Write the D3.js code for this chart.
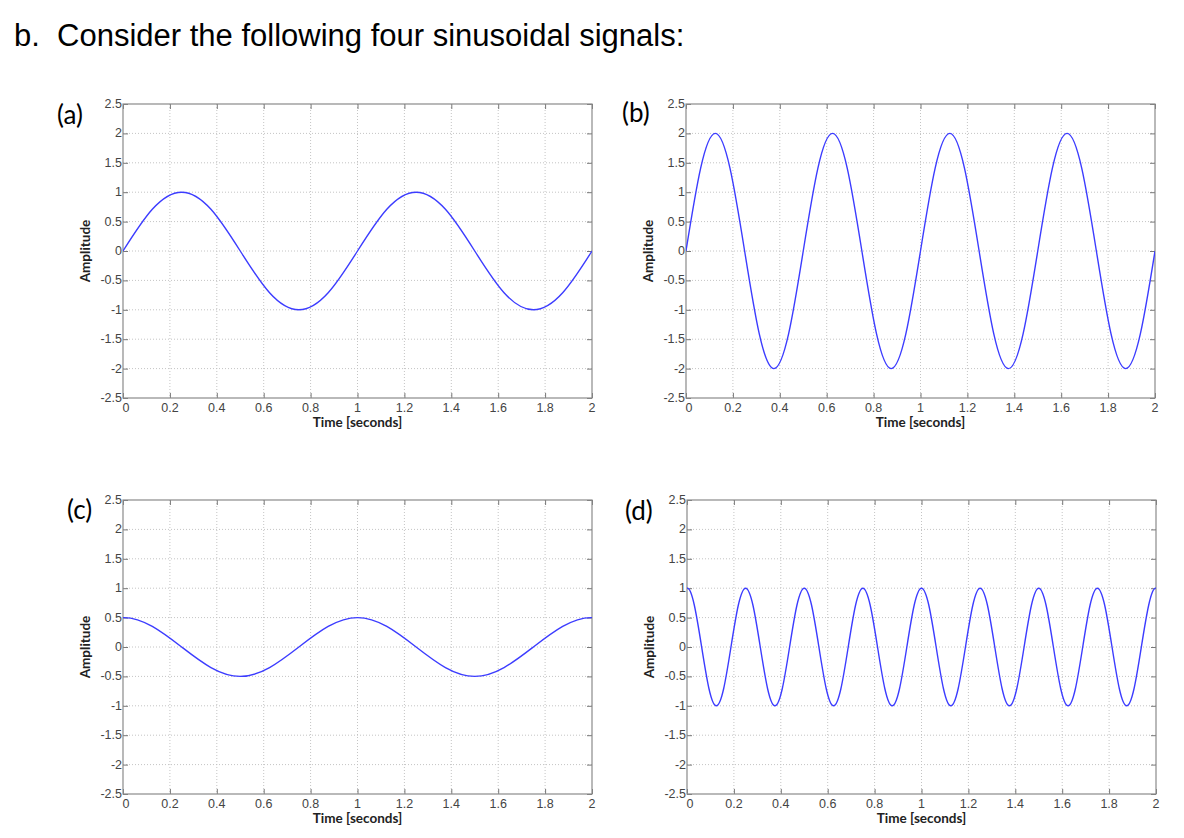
<!DOCTYPE html>
<html>
<head>
<meta charset="utf-8">
<script src="https://cdn.jsdelivr.net/npm/d3@7"></script>
<style>
    body { margin: 0; background: #fff; }
    svg { display: block; }
    .tick-label { font-family: Arial, "Liberation Sans", sans-serif; font-size: 12.5px; fill: #444; }
    .axis-title { font-family: Lato, "Open Sans", sans-serif; font-size: 13.5px; font-weight: bold; fill: #222; }
    .panel-tag { font-family: Lato, "Open Sans", sans-serif; font-size: 26px; fill: #000; }
</style>
</head>
<body>
<div id="chartArea"></div>
<script>
const timeA = [0, 0.125, 0.25, 0.375, 0.5, 0.625, 0.75, 0.875, 1, 1.125, 1.25, 1.375, 1.5, 1.625, 1.75, 1.875, 2];
const ampA  = [0, 0.71, 1, 0.71, 0, -0.71, -1, -0.71, 0, 0.71, 1, 0.71, 0, -0.71, -1, -0.71, 0];

const timeB = [0, 0.0625, 0.125, 0.1875, 0.25, 0.3125, 0.375, 0.4375,
               0.5, 0.5625, 0.625, 0.6875, 0.75, 0.8125, 0.875, 0.9375,
               1, 1.0625, 1.125, 1.1875, 1.25, 1.3125, 1.375, 1.4375,
               1.5, 1.5625, 1.625, 1.6875, 1.75, 1.8125, 1.875, 1.9375, 2];
const ampB  = [0, 1.41, 2, 1.41, 0, -1.41, -2, -1.41,
               0, 1.41, 2, 1.41, 0, -1.41, -2, -1.41,
               0, 1.41, 2, 1.41, 0, -1.41, -2, -1.41,
               0, 1.41, 2, 1.41, 0, -1.41, -2, -1.41, 0];

// (c) and (d) start on a crest, so one sample either side of the window is kept (clipped away)
const timeC = [-0.125, 0, 0.125, 0.25, 0.375, 0.5, 0.625, 0.75, 0.875, 1, 1.125, 1.25, 1.375, 1.5, 1.625, 1.75, 1.875, 2, 2.125];
const ampC  = [0.35, 0.5, 0.35, 0, -0.35, -0.5, -0.35, 0, 0.35, 0.5, 0.35, 0, -0.35, -0.5, -0.35, 0, 0.35, 0.5, 0.35];

const timeD = [-0.03125,
               0, 0.03125, 0.0625, 0.09375, 0.125, 0.15625, 0.1875, 0.21875,
               0.25, 0.28125, 0.3125, 0.34375, 0.375, 0.40625, 0.4375, 0.46875,
               0.5, 0.53125, 0.5625, 0.59375, 0.625, 0.65625, 0.6875, 0.71875,
               0.75, 0.78125, 0.8125, 0.84375, 0.875, 0.90625, 0.9375, 0.96875,
               1, 1.03125, 1.0625, 1.09375, 1.125, 1.15625, 1.1875, 1.21875,
               1.25, 1.28125, 1.3125, 1.34375, 1.375, 1.40625, 1.4375, 1.46875,
               1.5, 1.53125, 1.5625, 1.59375, 1.625, 1.65625, 1.6875, 1.71875,
               1.75, 1.78125, 1.8125, 1.84375, 1.875, 1.90625, 1.9375, 1.96875,
               2, 2.03125];
const ampD  = [0.71,
               1, 0.71, 0, -0.71, -1, -0.71, 0, 0.71,
               1, 0.71, 0, -0.71, -1, -0.71, 0, 0.71,
               1, 0.71, 0, -0.71, -1, -0.71, 0, 0.71,
               1, 0.71, 0, -0.71, -1, -0.71, 0, 0.71,
               1, 0.71, 0, -0.71, -1, -0.71, 0, 0.71,
               1, 0.71, 0, -0.71, -1, -0.71, 0, 0.71,
               1, 0.71, 0, -0.71, -1, -0.71, 0, 0.71,
               1, 0.71, 0, -0.71, -1, -0.71, 0, 0.71,
               1, 0.71];

const panelTags = ['(a)', '(b)', '(c)', '(d)'];
const xTicks = [0, 0.2, 0.4, 0.6, 0.8, 1, 1.2, 1.4, 1.6, 1.8, 2];
const yTicks = [-2.5, -2, -1.5, -1, -0.5, 0, 0.5, 1, 1.5, 2, 2.5];
const xTitle = 'Time [seconds]';
const yTitle = 'Amplitude';
const heading = 'b.  Consider the following four sinusoidal signals:';

// where each panel sits on the page
let layout = [
    { left: 123, top: 104, tagX: -66, tagY: 11 },
    { left: 686, top: 104, tagX: -64, tagY: 9 },
    { left: 123, top: 500, tagX: -56, tagY: 10 },
    { left: 687, top: 500, tagX: -62, tagY: 11 }
];
let series = [
    { t: timeA, v: ampA },
    { t: timeB, v: ampB },
    { t: timeC, v: ampC },
    { t: timeD, v: ampD }
];

let plotW = 469,
    plotH = 294;

let svg = d3.select('#chartArea')
    .append('svg')
        .attr('width', 1184)
        .attr('height', 838);

svg.append('text')
    .attr('x', 14)
    .attr('y', 46)
    .style('font-family', 'Arial, "Liberation Sans", sans-serif')
    .style('font-size', '31px')
    .style('fill', '#000')
    .style('white-space', 'pre')
    .text(heading);

function drawPanel(i) {
    let pos = layout[i];
    let t = series[i].t, v = series[i].v;

    let g = svg.append('g')
        .attr('transform', 'translate(' + pos.left + ',' + pos.top + ')');

    let xScale = d3.scaleLinear().domain([0, 2]).range([0, plotW]);
    let yScale = d3.scaleLinear().domain([-2.5, 2.5]).range([plotH, 0]);

    g.append('clipPath')
        .attr('id', 'clip' + i)
        .append('rect')
            .attr('width', plotW)
            .attr('height', plotH);

    // dotted grid
    g.append('g')
        .selectAll('line')
        .data(xTicks.slice(1, -1))
        .enter().append('line')
            .attr('x1', d => xScale(d)).attr('x2', d => xScale(d))
            .attr('y1', 0).attr('y2', plotH)
            .attr('stroke', '#c4c4c4')
            .attr('stroke-dasharray', '1,2');
    g.append('g')
        .selectAll('line')
        .data(yTicks.slice(1, -1))
        .enter().append('line')
            .attr('y1', d => yScale(d)).attr('y2', d => yScale(d))
            .attr('x1', 0).attr('x2', plotW)
            .attr('stroke', '#c4c4c4')
            .attr('stroke-dasharray', '1,2');

    // inward ticks on all four sides
    let tickLen = 5;
    g.append('g').attr('transform', 'translate(0,' + plotH + ')')
        .call(d3.axisTop(xScale).tickValues(xTicks).tickSize(tickLen).tickFormat(''));
    g.append('g')
        .call(d3.axisBottom(xScale).tickValues(xTicks).tickSize(tickLen).tickFormat(''));
    g.append('g')
        .call(d3.axisRight(yScale).tickValues(yTicks).tickSize(tickLen).tickFormat(''));
    g.append('g').attr('transform', 'translate(' + plotW + ',0)')
        .call(d3.axisLeft(yScale).tickValues(yTicks).tickSize(tickLen).tickFormat(''));
    g.selectAll('.domain').remove();
    g.selectAll('.tick line').attr('stroke', '#777');

    g.append('rect')
        .attr('width', plotW)
        .attr('height', plotH)
        .attr('fill', 'none')
        .attr('stroke', '#8a8a8a')
        .attr('stroke-width', 1.2);

    // tick labels, plain hyphen for negatives as in the original
    g.selectAll('.xlab')
        .data(xTicks)
        .enter().append('text')
            .attr('class', 'tick-label')
            .attr('x', d => xScale(d) + (d === 0 ? 3 : 0))
            .attr('y', plotH + 14)
            .attr('text-anchor', 'middle')
            .text(d => String(d));
    g.selectAll('.ylab')
        .data(yTicks)
        .enter().append('text')
            .attr('class', 'tick-label')
            .attr('x', -1)
            .attr('y', d => yScale(d) + 4)
            .attr('text-anchor', 'end')
            .text(d => String(d));

    g.append('text')
        .attr('class', 'axis-title')
        .attr('x', xScale(1))
        .attr('y', plotH + 29)
        .attr('text-anchor', 'middle')
        .text(xTitle);
    g.append('text')
        .attr('class', 'axis-title')
        .attr('transform', 'translate(-33,' + (plotH / 2) + ') rotate(-90)')
        .attr('text-anchor', 'middle')
        .text(yTitle);

    g.append('text')
        .attr('class', 'panel-tag')
        .attr('x', pos.tagX)
        .attr('y', pos.tagY + 9)
        .text(panelTags[i]);

    let line = d3.line()
        .x((d, k) => xScale(t[k]))
        .y(d => yScale(d))
        .curve(d3.curveNatural);

    g.append('path')
        .attr('d', line(v))
        .attr('clip-path', 'url(#clip' + i + ')')
        .attr('fill', 'none')
        .attr('stroke', '#3c3cff')
        .attr('stroke-width', 1.4);
}

layout.forEach((p, i) => drawPanel(i));
</script>
</body>
</html>
